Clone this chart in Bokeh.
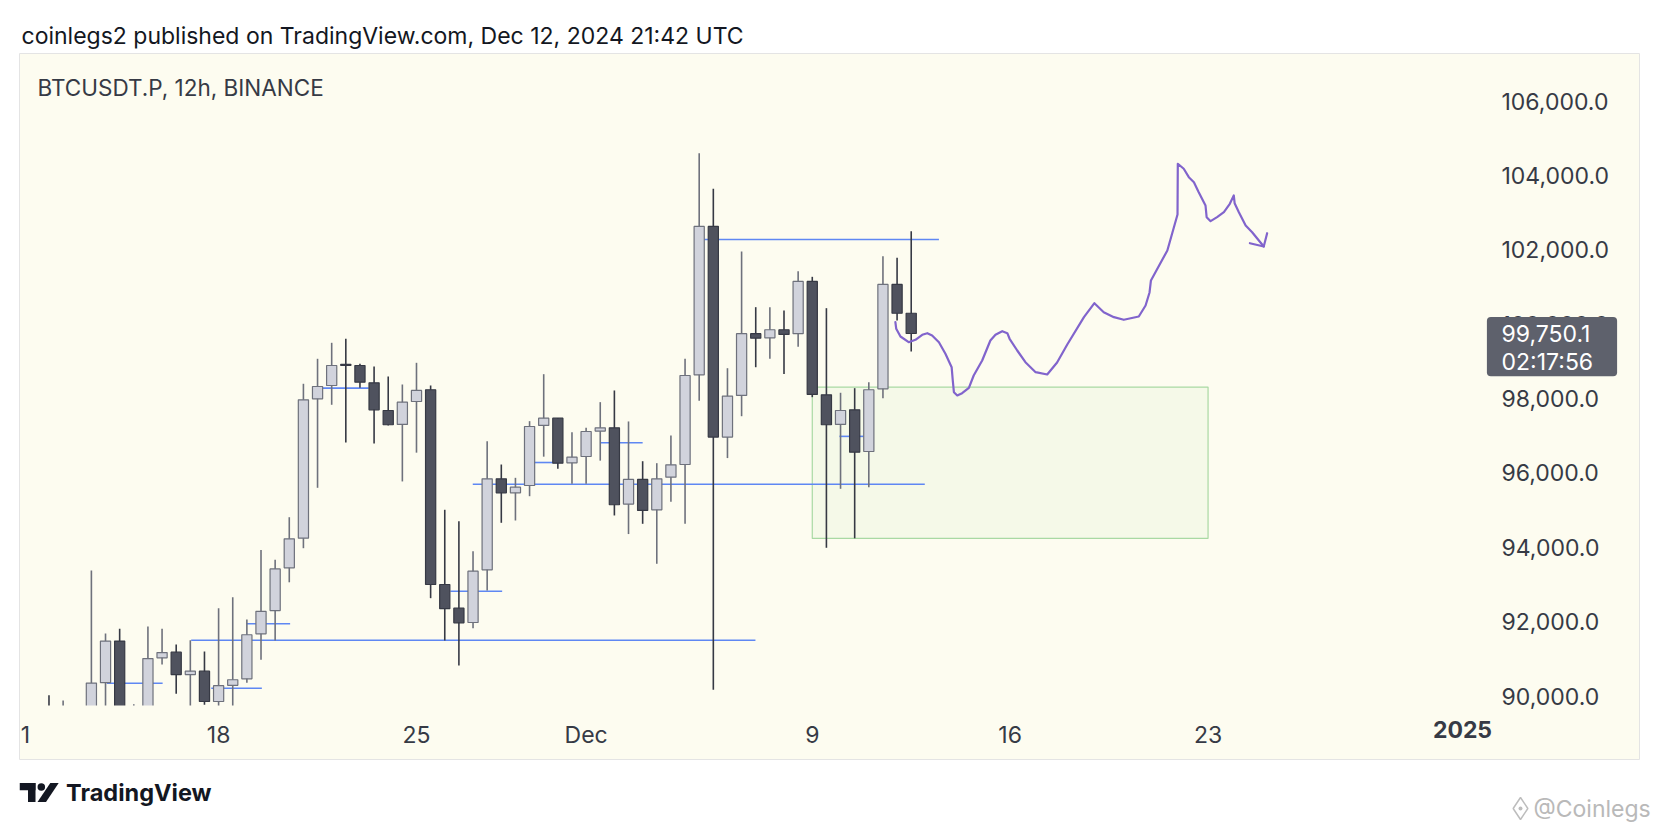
import numpy as np
from bokeh.plotting import figure
from bokeh.models import (Range1d, LinearAxis, FixedTicker, NumeralTickFormatter,
                          ColumnDataSource, Label, BoxAnnotation)
from bokeh.embed import file_html
from bokeh.resources import INLINE

# ---------------- data ----------------
# x is measured in days of Nov 2024: day 18 = 18 Nov 00:00 UTC, day 31 = 1 Dec, day 62 = 1 Jan 2025
first_candle_day = 11.0          # 12h candles, first one opens 11 Nov 00:00
candle_open = [80400, 84900, 88700, 87400, 87950, 88900, 90360, 91480, 87300, 88500,
               91030, 91180, 90580, 90670, 89855, 90290, 90465, 91675, 92300, 93450,
               94246, 97994, 98352, 98920, 98890, 98425, 97680, 97304, 97922, 98237,
               93001, 92364, 91979, 93396, 95843, 95466, 95663, 97277, 97473, 96273,
               96443, 97125, 97215, 95163, 95826, 95010, 95887, 96228, 98640, 102628,
               96965, 98085, 99744, 99635, 99851, 99744, 101150, 98102, 97304, 97699,
               96577, 98263, 101069, 100294]
candle_high = [85200, 89300, 90020, 89880, 89500, 93380, 91680, 91810, 89780, 91870,
               91810, 91390, 91500, 91200, 92360, 92660, 92060, 93930, 93665, 94810,
               98398, 99070, 99500, 99607, 98936, 98863, 98594, 98379, 98962, 98352,
               95010, 94703, 93897, 96856, 96227, 95869, 97393, 98656, 97480, 97095,
               97215, 97904, 98218, 97385, 96316, 96263, 97009, 99070, 104599, 103641,
               98817, 101955, 100458, 100458, 100366, 101427, 101274, 100431, 98156, 98280,
               98442, 101829, 101786, 102501]
candle_low = [80200, 84600, 86100, 85200, 86600, 88500, 89300, 86700, 87100, 88300,
              90850, 90060, 89300, 89770, 89500, 89600, 90360, 90980, 91495, 93060,
              93977, 95601, 97833, 96822, 98290, 96795, 97277, 95772, 96546, 92633,
              91495, 90823, 91826, 92840, 94660, 94722, 95375, 96438, 96112, 95709,
              95709, 96331, 94857, 94357, 94633, 93558, 95225, 94633, 97940, 90172,
              96400, 97526, 98843, 99070, 98664, 99394, 98038, 93988, 95574, 94243,
              95618, 98011, 100099, 99266]
candle_close = [84900, 88700, 87400, 87950, 88900, 90350, 91480, 87300, 88500, 91010,
                91170, 90580, 90670, 89855, 90280, 90440, 91650, 92280, 93420, 94230,
                97967, 98325, 98890, 98890, 98441, 97699, 97296, 97904, 98218, 93001,
                92350, 91971, 93359, 95843, 95466, 95617, 97249, 97473, 96263, 96424,
                97115, 97215, 95145, 95826, 94992, 95843, 96220, 98621, 102628, 96965,
                98067, 99744, 99624, 99851, 99725, 101150, 98111, 97296, 97680, 96558,
                98237, 101069, 100294, 99750.1]

# horizontal levels (blue)
level_start = [14.05, 17.03, 17.74, 18.99, 21.69, 26.20, 26.99, 29.17, 31.51, 35.00, 39.96]
level_end = [16.02, 36.99, 19.53, 20.53, 23.31, 28.03, 42.98, 30.02, 33.00, 43.48, 40.82]
level_price = [90347, 91500, 90212, 91944, 98280, 92821, 95698, 96281, 96812, 102279, 96984]

# demand zone (green rectangle)
zone_start, zone_end = 39.0, 53.0
zone_top, zone_bottom = 98310, 94240

# hand-drawn projection path (purple)
path_day = [41.94, 41.97, 42.12, 42.41, 42.65, 42.89, 43.07, 43.24, 43.48, 43.71,
            43.93, 43.97, 44.01, 44.13, 44.30, 44.54, 44.71, 45.01, 45.30, 45.48,
            45.72, 45.90, 45.98, 46.25, 46.54, 46.90, 47.31, 47.66, 48.02, 48.61,
            48.98, 49.31, 49.67, 50.02, 50.55, 50.79, 50.93, 50.98, 51.25, 51.56,
            51.74, 51.92, 51.93, 52.14, 52.32, 52.50, 52.67, 52.91, 52.95, 53.09,
            53.32, 53.56, 53.77, 53.91, 53.94, 54.09, 54.33, 54.56, 54.97]
path_price = [100054, 99877, 99670, 99516, 99581, 99715, 99758, 99697, 99516, 99205,
              98844, 98487, 98172, 98083, 98145, 98290, 98621, 99024, 99562, 99715,
              99812, 99758, 99608, 99293, 98979, 98710, 98648, 98970, 99455, 100189,
              100565, 100323, 100189, 100119, 100207, 100503, 100853, 101176, 101552, 101982,
              102466, 102950, 104314, 104179, 103953, 103819, 103550, 103192, 102878, 102770,
              102878, 103012, 103238, 103461, 103254, 103012, 102654, 102474, 102090]
arrow_day = [54.48, 54.97, 55.09]
arrow_price = [102178, 102090, 102447]

price_ticks = [90000, 92000, 94000, 96000, 98000, 100000, 102000, 104000, 106000]
date_ticks = [11, 18, 25, 31, 39, 46, 53]
date_labels = ["11", "18", "25", "Dec", "9", "16", "23"]
year_ticks = [62]
year_labels = ["2025"]

timer_text = "02:17:56"
title_text = "coinlegs2 published on TradingView.com, Dec 12, 2024 21:42 UTC"
symbol_text = "BTCUSDT.P, 12h, BINANCE"

# ---------------- layout / style ----------------
W, H = 1660, 828
X_START, PX_PER_DAY = 10.285, 28.27
Y_TOP, PX_PER_USD = 108704.0, 0.03719
X_END = X_START + W / PX_PER_DAY
Y_BOTTOM = Y_TOP - H / PX_PER_USD


def dx(px):
    return X_START + px / PX_PER_DAY


def py(px):
    return Y_TOP - px / PX_PER_USD


CREAM = "#fdfcf0"
UP_FILL, UP_EDGE = "#d1d3dc", "#6e717c"
DN_FILL, DN_EDGE = "#4f525e", "#363944"
BLUE = "#5f87f3"
PURPLE = "#8164cc"
TXT = "#363a45"
FONT = "Inter"

PANEL_L, PANEL_R, PANEL_T, PANEL_B = 19, 1639, 53, 759

p = figure(width=W, height=H, x_range=Range1d(X_START, X_END), y_range=Range1d(Y_BOTTOM, Y_TOP),
           x_axis_type=None, y_axis_type=None, toolbar_location=None, output_backend="svg",
           min_border=0, min_border_left=0, min_border_right=0, min_border_top=0, min_border_bottom=0,
           background_fill_color="white", border_fill_color="white", outline_line_color=None)
p.title.visible = False

# chart panel
p.quad(left=[dx(PANEL_L)], right=[dx(PANEL_R)], top=[py(PANEL_T)], bottom=[py(PANEL_B)],
       fill_color=CREAM, line_color=None)

# zone
p.quad(left=[zone_start], right=[zone_end], top=[zone_top], bottom=[zone_bottom],
       fill_color="#6abf69", fill_alpha=0.05, line_color="#a9d9a3", line_width=1.2)

# levels
p.segment(x0=level_start, y0=level_price, x1=level_end, y1=level_price,
          line_color=BLUE, line_width=1.6)

# candles
o = np.array(candle_open, dtype=float)
c = np.array(candle_close, dtype=float)
up = c >= o
days = first_candle_day + 0.5 * np.arange(len(o))
src = ColumnDataSource(dict(
    x=days, high=candle_high, low=candle_low,
    top=np.maximum(o, c), bottom=np.minimum(o, c),
    fill=[UP_FILL if u else DN_FILL for u in up],
    edge=[UP_EDGE if u else DN_EDGE for u in up],
))
p.segment(x0="x", y0="high", x1="x", y1="low", source=src, line_color="edge", line_width=1.6)
p.vbar(x="x", width=0.36, top="top", bottom="bottom", source=src,
       fill_color="fill", line_color="edge", line_width=1.2)

# projection
p.line(path_day, path_price, line_color=PURPLE, line_width=2.2, line_join="round", line_cap="round")
p.line(arrow_day, arrow_price, line_color=PURPLE, line_width=2.2, line_join="round", line_cap="round")

# time-scale pane (hides what is below the price pane)
p.quad(left=[dx(PANEL_L)], right=[dx(PANEL_R)], top=[py(705)], bottom=[py(PANEL_B)],
       fill_color=CREAM, line_color=None)
# page area below the panel
p.quad(left=[X_START], right=[X_END], top=[py(PANEL_B)], bottom=[Y_BOTTOM],
       fill_color="white", line_color=None)

# TradingView logo
p.quad(left=[dx(19)], right=[dx(35)], top=[py(782.4)], bottom=[py(789.8)], fill_color="#131722", line_color=None)
p.quad(left=[dx(27.5)], right=[dx(35)], top=[py(782.4)], bottom=[py(801.4)], fill_color="#131722", line_color=None)
p.scatter([dx(40.8)], [py(786.5)], marker="circle", size=7.5, fill_color="#131722", line_color=None)
p.patch([dx(37), dx(45.5), dx(58.2), dx(49.8)], [py(801.4), py(801.4), py(782.4), py(782.4)],
        fill_color="#131722", line_color=None)

# watermark icon
p.scatter([dx(1520)], [py(808)], marker="diamond", size=22, fill_color=None,
          line_color="#bdbdbd", line_width=1.5)
p.scatter([dx(1520)], [py(808)], marker="circle", size=4, fill_color="#bdbdbd", line_color=None)

# left page margin (hides tick label overflow) and panel outline
p.quad(left=[X_START], right=[dx(PANEL_L)], top=[Y_TOP], bottom=[Y_BOTTOM],
       fill_color="white", line_color=None, level="overlay")
p.quad(left=[dx(PANEL_L)], right=[dx(PANEL_R)], top=[py(PANEL_T)], bottom=[py(PANEL_B)],
       fill_color=None, line_color="#e4e4e4", line_width=1, level="overlay")

# axes
def style_axis(ax, size="23px"):
    ax.axis_line_color = None
    ax.major_tick_line_color = None
    ax.minor_tick_line_color = None
    ax.major_label_text_font = FONT
    ax.major_label_text_font_size = size
    ax.major_label_text_color = TXT
    ax.major_label_standoff = 5


xaxis = LinearAxis(ticker=FixedTicker(ticks=date_ticks), fixed_location=py(709),
                   major_label_overrides=dict(zip(date_ticks, date_labels)))
style_axis(xaxis)
p.add_layout(xaxis, "below")

yearaxis = LinearAxis(ticker=FixedTicker(ticks=year_ticks), fixed_location=py(709),
                      major_label_overrides=dict(zip(year_ticks, year_labels)))
style_axis(yearaxis)
yearaxis.major_label_text_font_style = "bold"
p.add_layout(yearaxis, "below")

yaxis = LinearAxis(ticker=FixedTicker(ticks=price_ticks), fixed_location=dx(1490),
                   formatter=NumeralTickFormatter(format="0,0.0"))
style_axis(yaxis)
p.add_layout(yaxis, "right")

# last price label
last = candle_close[-1]
px_last = (Y_TOP - last) * PX_PER_USD
p.add_layout(BoxAnnotation(left=dx(1486.4), right=dx(1616.6), top=py(px_last - 16.5),
                           bottom=py(px_last + 42.8), fill_color="#5e616c", fill_alpha=1.0,
                           line_color=None, border_radius=4))
p.add_layout(Label(x=dx(1501), y=last, text=f"{last:,.1f}", text_font=FONT, text_font_size="23px",
                   text_color="white", text_align="left", text_baseline="middle"))
p.add_layout(Label(x=dx(1501), y=py(px_last + 28.6), text=timer_text, text_font=FONT,
                   text_font_size="23px", text_color="white", text_align="left", text_baseline="middle"))

# texts
p.add_layout(Label(x=dx(21), y=py(35), text=title_text, text_font=FONT, text_font_size="23px",
                   text_color="#131722", text_align="left", text_baseline="middle"))
p.add_layout(Label(x=dx(37), y=py(87), text=symbol_text, text_font=FONT, text_font_size="22.5px",
                   text_color=TXT, text_align="left", text_baseline="middle"))
p.add_layout(Label(x=dx(65.6), y=py(792), text="TradingView", text_font=FONT, text_font_size="23.5px",
                   text_font_style="bold", text_color="#131722", text_align="left", text_baseline="middle"))
p.add_layout(Label(x=dx(1533), y=py(808), text="@Coinlegs", text_font=FONT, text_font_size="23px",
                   text_color="#b9b9b9", text_align="left", text_baseline="middle"))

open("out.html", "w").write(file_html(p, INLINE, title="BTCUSDT.P 12h"))
